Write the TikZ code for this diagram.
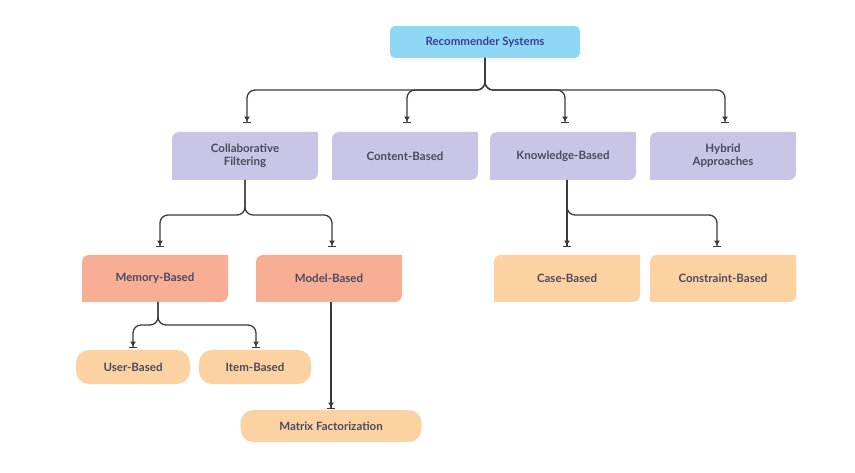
\documentclass[tikz,border=0pt]{standalone}
\usepackage{fontspec}
\setmainfont{Lato}
\usetikzlibrary{arrows.meta}
\definecolor{rootc}{HTML}{8FD8F5}
\definecolor{roott}{HTML}{3A3D96}
\definecolor{purc}{HTML}{C9C5E6}
\definecolor{salc}{HTML}{F8AE94}
\definecolor{peac}{HTML}{FDD2A2}
\definecolor{txt}{HTML}{4A4A5E}
\definecolor{ln}{HTML}{3A3A3A}
\tikzset{
  box/.style={inner sep=0pt, font=\bfseries\fontsize{11.5}{13}\selectfont, text=txt, align=center},
  pill/.style={box, rounded corners=13pt, fill=peac},
  conn/.style={ln, line width=1.3pt, rounded corners=8pt, -{Latex[length=5pt,width=6pt]Bar[width=8pt,line width=1.3pt]}},
}
\newcommand{\tbox}[5]{% name, x1,y1,x2,y2 style via color #6
  \fill[#5] (#1.south west) [rounded corners=0pt] -- (#1.north west) -- (#1.north east) -- (#1.south east) -- cycle;}
\newcommand{\mkbox}[7]{% name color x1 y1 x2 y2 text
  \fill[#2] (#3,#6) -- (#3,#4+8) [rounded corners=7pt] -- (#3,#4) [sharp corners] -- (#5,#4) -- (#5,#6-8) [rounded corners=7pt] -- (#5,#6) [sharp corners] -- cycle;
  \node[box] (#1) at ({(#3+#5)/2},{(#4+#6)/2}) {#7};}
\begin{document}
\begin{tikzpicture}[x=1pt,y=-1pt]
\useasboundingbox (0,0) rectangle (855,473);
\fill[rootc, rounded corners=5pt] (390,26) rectangle (580,58);
\node[box, text=roott] (root) at (485,42) {Recommender Systems};
\mkbox{cf}{purc}{172}{132}{318}{180}{Collaborative\\Filtering}
\mkbox{cb}{purc}{332}{132}{478}{180}{Content-Based}
\mkbox{kb}{purc}{490}{132}{636}{180}{Knowledge-Based}
\mkbox{hy}{purc}{650}{132}{796}{180}{Hybrid\\Approaches}
\mkbox{mem}{salc}{82}{255}{228}{302}{Memory-Based}
\mkbox{mod}{salc}{256}{255}{402}{302}{Model-Based}
\mkbox{cas}{peac}{494}{255}{640}{302}{Case-Based}
\mkbox{con}{peac}{650}{255}{796}{302}{Constraint-Based}
\node[pill, minimum width=114pt, minimum height=34pt] (ub) at (133,367) {User-Based};
\node[pill, minimum width=112pt, minimum height=34pt] (ib) at (255,367) {Item-Based};
\node[pill, minimum width=181pt, minimum height=32pt] (mf) at (331,426) {Matrix Factorization};
\coordinate (r0) at (485,58);
\coordinate (c0) at (245,180);
\coordinate (k0) at (567,180);
\coordinate (m0) at (158,302);
\coordinate (d0) at (331,302);
\draw[conn] (r0) |- (247,90) -- (247,123);
\draw[conn] (r0) |- (407,90) -- (407,123);
\draw[conn] (r0) |- (565,90) -- (565,123);
\draw[conn] (r0) |- (725,90) -- (725,123);
\draw[conn] (c0) |- (160,215) -- (160,247);
\draw[conn] (c0) |- (332,215) -- (332,247);
\draw[conn] (k0) -- (567,247);
\draw[conn] (k0) |- (717,215) -- (717,247);
\draw[conn] (m0) |- (133,325) -- (133,348);
\draw[conn] (m0) |- (256,325) -- (256,348);
\draw[conn] (d0) -- (331,409);
\end{tikzpicture}
\end{document}
